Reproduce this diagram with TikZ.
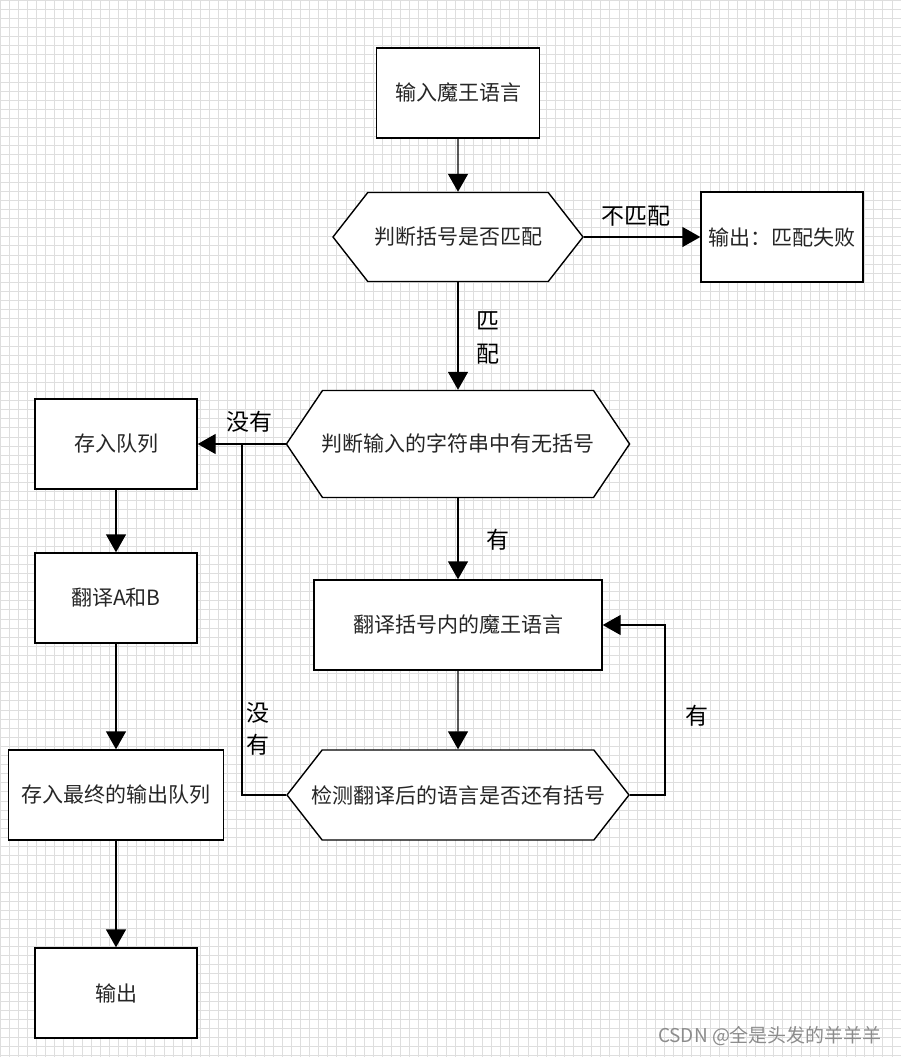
\documentclass[tikz,border=0pt]{standalone}
\usepackage{fontspec}
\setmainfont{Noto Sans CJK SC}
\usetikzlibrary{arrows.meta,shapes.symbols}
\tikzset{
	box/.style={draw, line width=1.4pt, fill=white, text=black!85, inner sep=0pt, minimum height=90pt, font=\fontsize{21}{25}\selectfont},
	hexa/.style={signal, signal to=east and west, draw, line width=1.4pt, fill=white, text=black!85, inner sep=0pt, font=\fontsize{21}{25}\selectfont},
	flow/.style={line width=1.4pt, -{Triangle[length=18pt,width=20pt]}},
	lbl/.style={font=\fontsize{23}{33}\selectfont, align=center}
}
\begin{document}
\begin{tikzpicture}[x=1pt, y=-1pt, line join=miter]
	\def\grille{black!13}
	\useasboundingbox (0,0) rectangle (901,1057);
	\fill[white] (0,0) rectangle (901,1057);
	\draw[\grille, line width=0.6pt, step=9.1pt] (0pt,-1057pt) grid (901pt,0pt);
	\node[box, minimum width=163pt] (lire) at (458,93) {输入魔王语言};
	\node[hexa, minimum width=250pt, minimum height=89pt, signal pointer angle=104] (apparie) at (458,237) {判断括号是否匹配};
	\node[box, minimum width=162pt] (echec) at (782,237) {输出：匹配失败};
	\node[hexa, minimum width=343pt, minimum height=107pt, signal pointer angle=112] (paren) at (458,444) {\makebox[271pt]{判断输入的字符串中有无括号}};
	\node[box, minimum width=162pt] (file) at (116,444) {存入队列};
	\node[box, minimum width=162pt] (trad) at (116,598) {翻译A和B};
	\node[box, minimum width=215pt] (final) at (116,795) {存入最终的输出队列};
	\node[box, minimum width=162pt] (sortie) at (116,993) {输出};
	\node[box, minimum width=288pt] (tradpar) at (458,625) {翻译括号内的魔王语言};
	\node[hexa, minimum width=342pt, minimum height=90pt, signal pointer angle=104] (reste) at (458,795) {\makebox[270pt]{检测翻译后的语言是否还有括号}};
	\coordinate (jonction) at (242,444);
	\draw[flow] (lire) -- (apparie);
	\draw[flow] (apparie.east) -- (echec.west);
	\draw[flow] (apparie.south) -- (paren.north);
	\draw[flow] (paren.west) -- (file.east);
	\draw[flow] (paren.south) -- (tradpar.north);
	\draw[flow] (tradpar) -- (reste);
	\draw[flow] (reste.east) -- ++(35,0) |- (tradpar.east);
	\draw[line width=1.4pt] (reste.west) -| (jonction);
	\draw[flow] (file) -- (trad);
	\draw[flow] (trad) -- (final);
	\draw[flow] (final) -- (sortie);
	\node[lbl] (l1) at (636,216) {不匹配};
	\node[lbl] (l2) at (488,338) {匹\\配};
	\node[lbl] (l3) at (249,422) {没有};
	\node[lbl] (l4) at (498,540) {有};
	\node[lbl] (l5) at (697,716) {有};
	\node[lbl, font=\fontsize{23}{32}\selectfont] (l6) at (258,729) {没\\有};
	\node[text=black!45, font=\fontsize{19}{23}\selectfont] (marque) at (770,1036) {CSDN @全是头发的羊羊羊};
\end{tikzpicture}
\end{document}
